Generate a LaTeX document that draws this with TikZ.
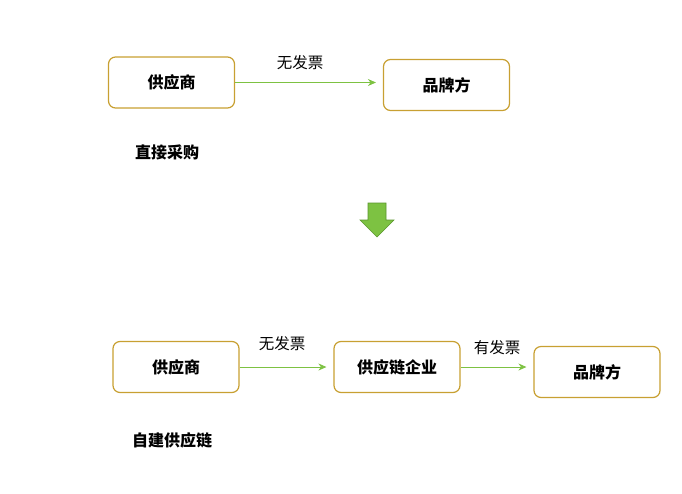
\documentclass[tikz,border=0pt]{standalone}
\usepackage{fontspec}
\newfontfamily\cjk{Noto Sans CJK SC}
\usetikzlibrary{arrows.meta}
\definecolor{boxgold}{RGB}{200,160,50}
\definecolor{flowgreen}{RGB}{125,194,66}
\definecolor{darkgreen}{RGB}{90,150,45}
\tikzset{
  party/.style={draw=boxgold,line width=1.2pt,rounded corners=7pt,fill=white,
    minimum width=126pt,minimum height=51pt,font=\cjk\bfseries\fontsize{16}{19}\selectfont},
  flow/.style={draw=flowgreen,line width=0.8pt,-{Stealth[length=8pt,width=7pt]},shorten >=7pt},
  tag/.style={font=\cjk\fontsize{15.5}{18}\selectfont},
  caption/.style={font=\cjk\bfseries\fontsize{16}{19}\selectfont}
}
\begin{document}
\begin{tikzpicture}[x=1pt,y=-1pt]
  \useasboundingbox[fill=white] (0,0) rectangle (682,493);
  % direct purchase
  \node[party] (sup1) at (171.5,82.5) {供应商};
  \node[party] (brand1) at (446.5,85) {品牌方};
  \draw[flow] (sup1.east) -- (sup1.east -| brand1.west);
  \node[tag] (inv1) at (300,63) {无发票};
  \node[caption] (direct) at (167,152) {直接采购};
  % big arrow
  \draw[fill=flowgreen,draw=darkgreen,line width=0.6pt]
    (368,203) -- (386,203) -- (386,220) -- (394,220) -- (377,237)
    -- (360,220) -- (368,220) -- cycle;
  % own supply chain
  \node[party] (sup2) at (176,367) {供应商};
  \node[party] (chain) at (397,367) {供应链企业};
  \node[party] (brand2) at (597,372) {品牌方};
  \draw[flow] (sup2.east) -- (chain.west);
  \draw[flow] (chain.east) -- (chain.east -| brand2.west);
  \node[tag] (inv2) at (282,344) {无发票};
  \node[tag] (inv3) at (497,348) {有发票};
  \node[caption] (own) at (172,440) {自建供应链};
\end{tikzpicture}
\end{document}
